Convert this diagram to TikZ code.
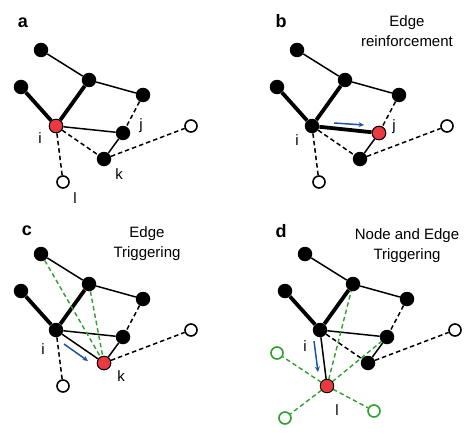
\documentclass[tikz,border=0pt]{standalone}
\usepackage{fontspec}
\setmainfont{Liberation Sans}
\usetikzlibrary{arrows.meta}
\definecolor{hotred}{RGB}{236,56,64}
\definecolor{cuegreen}{RGB}{46,160,46}
\definecolor{pushblue}{RGB}{30,84,168}
\tikzset{
  dot/.style={circle, fill=black, minimum size=14.5pt, inner sep=0pt},
  hotdot/.style={circle, fill=hotred, draw=black, line width=0.9pt,
                 minimum size=13.5pt, inner sep=0pt},
  hollow/.style={circle, fill=white, draw=black, line width=1.6pt,
                 minimum size=12pt, inner sep=0pt},
  cuehollow/.style={hollow, draw=cuegreen},
  link/.style={line width=1.5pt},
  strong/.style={line width=3.8pt},
  weak/.style={line width=1.5pt, dash pattern=on 4.5pt off 3pt},
  cue/.style={cuegreen, line width=1.4pt, dash pattern=on 4.5pt off 3pt},
  push/.style={pushblue, line width=1.5pt, -{Stealth[length=5.5pt,width=5pt]}},
  tag/.style={font=\fontsize{15}{18}\selectfont, inner sep=0pt},
  panel/.style={font=\fontsize{18}{20}\selectfont\bfseries, inner sep=0pt},
  caption/.style={font=\fontsize{15}{20}\selectfont, align=center,
                  inner sep=0pt, anchor=north}
}
% nodes and edges shared by all four panels, #1 = panel prefix
\newcommand{\basegraph}[1]{%
  \foreach \n/\x/\y in {A/41/50, B/21/87, C/89/80, D/143/95,
                        i/56/126, j/123/133, k/104/159} {
    \node[dot] (#1\n) at (\x,\y) {};
  }
  \node[hollow] (#1l) at (63,182) {};
  \node[hollow] (#1o) at (191,126) {};
  \draw[link] (#1A) -- (#1C) -- (#1D);
  \draw[strong] (#1B) -- (#1i) -- (#1C);
  \draw[weak] (#1D) -- (#1j);
  \draw[link] (#1j) -- (#1k);
  \draw[weak] (#1k) -- (#1o);
}

\begin{document}
\begin{tikzpicture}[x=1pt, y=-1pt]
  \useasboundingbox (0,0) rectangle (474,436);

  % a
  \begin{scope}
    \basegraph{a}
    \draw[link] (ai) -- (aj);
    \draw[weak] (ai) -- (ak);
    \draw[weak] (ai) -- (al);
    \node[hotdot] (ai-hot) at (ai) {};
    \node[tag] (ai-tag) at (40,138) {i};
    \node[tag] (aj-tag) at (141,126) {j};
    \node[tag] (ak-tag) at (119,174) {k};
    \node[tag] (al-tag) at (75,198) {l};
  \end{scope}
  \node[panel] (pa) at (23,23) {a};

  % b
  \begin{scope}[shift={(256,0)}]
    \basegraph{b}
    \draw[strong] (bi) -- (bj);
    \draw[weak] (bi) -- (bk);
    \draw[weak] (bi) -- (bl);
    \node[hotdot] (bj-hot) at (bj) {};
    \coordinate (bpush0) at (78,123);
    \coordinate (bpush1) at (108,125);
    \draw[push] (bpush0) -- (bpush1);
    \node[tag] (bi-tag) at (41,140) {i};
    \node[tag] (bj-tag) at (138,127) {j};
  \end{scope}
  \node[panel] (pb) at (281,21) {b};
  \node[caption] (tb) at (407,15) {Edge\\reinforcement};

  % c
  \begin{scope}[shift={(0,204)}]
    \basegraph{c}
    \draw[link] (ci) -- (cj);
    \draw[link] (ci) -- (ck);
    \draw[weak] (ci) -- (cl);
    \draw[cue] (cA) -- (ck);
    \draw[cue] (cC) -- (ck);
    \node[hotdot] (ck-hot) at (ck) {};
    \coordinate (cpush0) at (64,140);
    \coordinate (cpush1) at (88,157);
    \draw[push] (cpush0) -- (cpush1);
    \node[tag] (ci-tag) at (43,145) {i};
    \node[tag] (ck-tag) at (121,172) {k};
  \end{scope}
  \node[panel] (pc) at (27,231) {c};
  \node[caption] (tc) at (147,226) {Edge\\Triggering};

  % d
  \begin{scope}[shift={(264,204)}]
    \basegraph{d}
    \draw[link] (di) -- (dj);
    \draw[weak] (di) -- (dk);
    \draw[link] (di) -- (dl);
    \foreach \g/\x/\y in {1/13/149, 2/21/214, 3/110/207} {
      \node[cuehollow] (dg\g) at (\x,\y) {};
      \draw[cue] (dl) -- (dg\g);
    }
    \draw[cue] (dl) -- (dC);
    \draw[cue] (dl) -- (dj);
    \node[hotdot] (dl-hot) at (dl) {};
    \coordinate (dpush0) at (50,137);
    \coordinate (dpush1) at (54,168);
    \draw[push] (dpush0) -- (dpush1);
    \node[tag] (di-tag) at (41,142) {i};
    \node[tag] (dl-tag) at (73,206) {l};
  \end{scope}
  \node[panel] (pd) at (281,231) {d};
  \node[caption] (td) at (407,228) {Node and Edge\\Triggering};
\end{tikzpicture}
\end{document}
